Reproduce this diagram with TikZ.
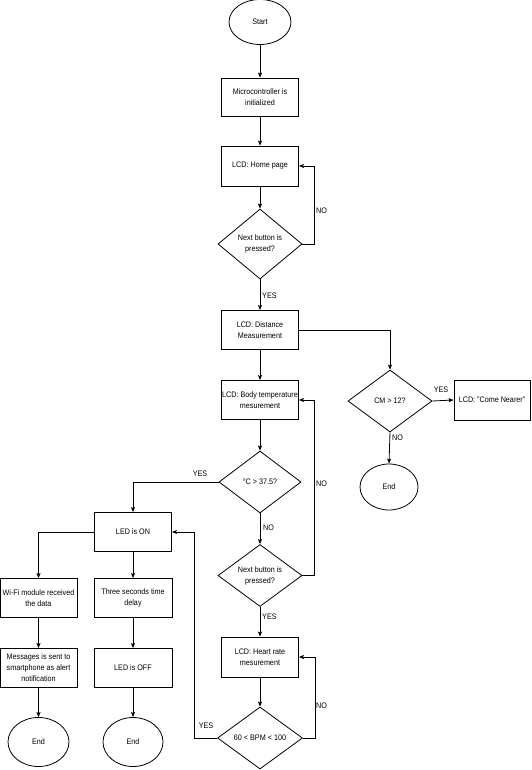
\documentclass[tikz,border=0pt]{standalone}
\usepackage{fontspec}
\setmainfont[FakeStretch=0.9]{Liberation Sans}
\usetikzlibrary{shapes.geometric,arrows.meta}
\begin{document}
\begin{tikzpicture}[x=1pt,y=-1pt,
  every node/.style={font=\fontsize{8}{11}\selectfont, align=center, inner sep=0pt},
  box/.style={draw, rectangle, line width=0.8pt, minimum width=77pt, minimum height=39pt},
  dec/.style={draw, diamond, aspect=1.35, line width=0.8pt, minimum width=84pt, minimum height=62pt},
  term/.style={draw, ellipse, line width=0.8pt},
  lbl/.style={font=\fontsize{8}{10}\selectfont},
  arr/.style={line width=0.8pt, -{Stealth[length=5pt,width=4pt,inset=1pt]}},
  ln/.style={line width=0.8pt}]
\useasboundingbox (0,0) rectangle (531,770);

\node[term, minimum width=62pt, minimum height=45pt] (start) at (260,22) {Start};
\node[box, minimum height=38pt] (init) at (260,97) {Microcontroller is\\initialized};
\node[box, minimum height=40pt] (home) at (260,166) {LCD: Home page};
\node[dec, minimum height=70pt] (next1) at (260,244) {Next button is\\pressed?};
\node[box] (dist) at (260,330) {LCD: Distance\\Measurement};
\node[box] (body) at (260,400) {LCD: Body temperature\\mesurement};
\node[dec, minimum width=82pt] (temp) at (260,482) {°C \textgreater{} 37.5?};
\node[dec] (next2) at (260,575.5) {Next button is\\pressed?};
\node[box, minimum height=40pt] (heart) at (260,657) {LCD: Heart rate\\mesurement};
\node[dec, minimum width=85pt] (bpm) at (260,738) {60 \textless{} BPM \textless{} 100};

\node[dec] (cm) at (390,401) {CM \textgreater{} 12?};
\node[box, minimum width=76pt, minimum height=40pt] (near) at (492,400) {LCD: "Come Nearer"};
\node[term, minimum width=58pt, minimum height=46pt] (endR) at (389,487) {End};

\node[box] (led) at (133,532) {LED is ON};
\node[box] (wifi) at (38.5,598) {Wi-Fi module received\\the data};
\node[box, minimum width=78pt] (three) at (133,598) {Three seconds time\\delay};
\node[box] (msg) at (38.5,668) {Messages is sent to\\smartphone as alert\\notification};
\node[box, minimum width=78pt] (off) at (133,668) {LED is OFF};
\node[term, minimum width=61pt, minimum height=49pt] (endL) at (38.5,742) {End};
\node[term, minimum width=60pt, minimum height=49pt] (endM) at (133,742) {End};

% main column
\draw[arr] (start) -- (init);
\draw[arr] (init) -- (home);
\draw[arr] (home) -- (next1);
\draw[arr] (next1.east) -- ++(12,0) |- (home.east);
\draw[arr] (next1.south) -- (dist.north);
\draw[arr] (dist) -- (body);
\draw[arr] (dist.east) -| (cm.north);
\draw[arr] (cm.east) -- (near.west);
\draw[arr] (cm.south) -- (endR.north);
\draw[arr] (body) -- (temp);
\draw[arr] (temp.west) -| (led.north);
\draw[arr] (temp.south) -- (next2.north);
\draw[arr] (next2.east) -- ++(12,0) |- (body.east);
\draw[arr] (next2.south) -- (heart.north);
\draw[arr] (heart) -- (bpm);
\draw[arr] (bpm.east) -- ++(12,0) |- (heart.east);
\draw[arr] (bpm.west) -- ++(-23,0) |- (led.east);

% left branches
\draw[arr] (led.west) -| (wifi.north);
\draw[arr] (led) -- (three);
\draw[arr] (wifi) -- (msg);
\draw[arr] (msg) -- (endL);
\draw[arr] (three) -- (off);
\draw[arr] (off) -- (endM);

% labels
\node[lbl, anchor=west] at (262,296) {YES};
\node[lbl, anchor=west] at (316,211) {NO};
\node[lbl] at (441,390) {YES};
\node[lbl, anchor=west] at (392,438) {NO};
\node[lbl] at (200,474) {YES};
\node[lbl, anchor=west] at (263,528) {NO};
\node[lbl, anchor=west] at (316,484) {NO};
\node[lbl, anchor=west] at (262,617) {YES};
\node[lbl, anchor=west] at (316,706) {NO};
\node[lbl] at (206,726) {YES};
\end{tikzpicture}
\end{document}
